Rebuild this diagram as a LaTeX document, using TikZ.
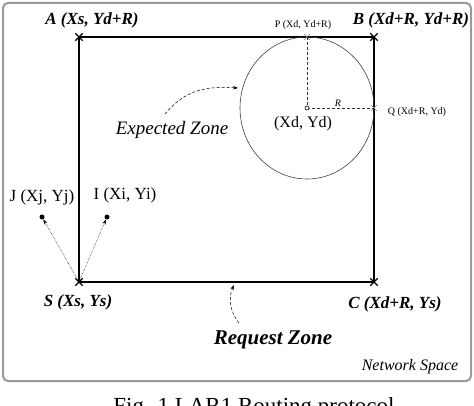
\documentclass[tikz,border=0pt]{standalone}
\usepackage{fontspec}
\setmainfont{Liberation Serif}
\usetikzlibrary{shapes.misc,arrows.meta}
\begin{document}
\begin{tikzpicture}[x=1pt,y=-1pt,
  corner/.style={cross out,draw,line width=1.3pt,minimum size=6pt,inner sep=0pt},
  smallx/.style={cross out,draw=gray,line width=0.6pt,minimum size=5pt,inner sep=0pt},
  cornerlbl/.style={font=\fontsize{17}{17}\selectfont\bfseries\itshape,inner sep=0pt},
  tiny/.style={font=\fontsize{10}{10}\selectfont,inner sep=0pt},
  nodelbl/.style={font=\fontsize{17}{17}\selectfont,inner sep=0pt},
  dot/.style={circle,fill=black,minimum size=5pt,inner sep=0pt},
  guide/.style={densely dashed,line width=0.6pt,gray!40!black},
  pointer/.style={densely dashed,line width=0.5pt,-{Stealth[length=5pt,width=3.5pt]}},
]
\useasboundingbox (0,0) rectangle (474,406);
% network space frame
\draw[gray!80,line width=2pt,rounded corners=5pt] (3,3) rectangle (471,381);
\node[font=\fontsize{16}{16}\selectfont\itshape,inner sep=0pt] (net) at (410,367) {Network Space};
% request zone corners
\node[corner] (A) at (79,37) {};
\node[corner] (B) at (374,37) {};
\node[corner] (C) at (374,282) {};
\node[corner] (S) at (79,282) {};
\draw[line width=1.5pt] (A.center) -- (B.center) -- (C.center) -- (S.center) -- cycle;
\node[cornerlbl] (Al) at (92,20) {A (Xs, Yd+R)};
\node[cornerlbl] (Bl) at (411,20) {B (Xd+R, Yd+R)};
\node[cornerlbl] (Sl) at (78,302) {S (Xs, Ys)};
\node[cornerlbl] (Cl) at (395,304) {C (Xd+R, Ys)};
% expected zone
\coordinate (D) at (307,108);
\draw[gray!50!black,line width=0.6pt] (D) ellipse [x radius=67pt, y radius=71pt];
\node[smallx] (P) at (307,37) {};
\node[smallx] (Q) at (374,108) {};
\draw[guide] (P.center) -- (D);
\draw[guide] (D) -- (Q.center);
\node[draw,circle,fill=white,minimum size=4pt,inner sep=0pt,line width=0.6pt] (Dc) at (D) {};
\node[font=\fontsize{10}{10}\selectfont\itshape,inner sep=0pt] (R) at (338,103) {R};
\node[tiny] (Pl) at (303,25) {P (Xd, Yd+R)};
\node[tiny] (Ql) at (417,112) {Q (Xd+R, Yd)};
\node[font=\fontsize{16}{16}\selectfont,inner sep=0pt] (Dl) at (303,124) {(Xd, Yd)};
\node[font=\fontsize{19}{19}\selectfont\itshape,inner sep=0pt] (EZ) at (172,130) {Expected Zone};
\coordinate (EZs) at (165,114);
\coordinate (EZe) at (238,88);
\draw[pointer] (EZs) .. controls (185,90) and (205,86) .. (EZe);
% request zone label
\node[font=\fontsize{21}{21}\selectfont\bfseries\itshape,inner sep=0pt] (RZ) at (273,340) {Request Zone};
\coordinate (RZs) at (239,323);
\coordinate (RZe) at (234,285);
\draw[pointer] (RZs) .. controls (230,312) and (228,298) .. (RZe);
% neighbours
\node[dot] (J) at (42,217) {};
\node[dot] (I) at (107,217) {};
\node[nodelbl] (Jl) at (42,197) {J (Xj, Yj)};
\node[nodelbl] (Il) at (125,195) {I (Xi, Yi)};
\draw[pointer,densely dotted] (S.center) -- (J);
\draw[pointer,densely dotted] (S.center) -- (I);
% caption (cut by the page edge)
\node[font=\fontsize{23}{23}\selectfont,anchor=base,inner sep=0pt] (cap) at (254,413) {Fig. 1 LAR1 Routing protocol};
\end{tikzpicture}
\end{document}
